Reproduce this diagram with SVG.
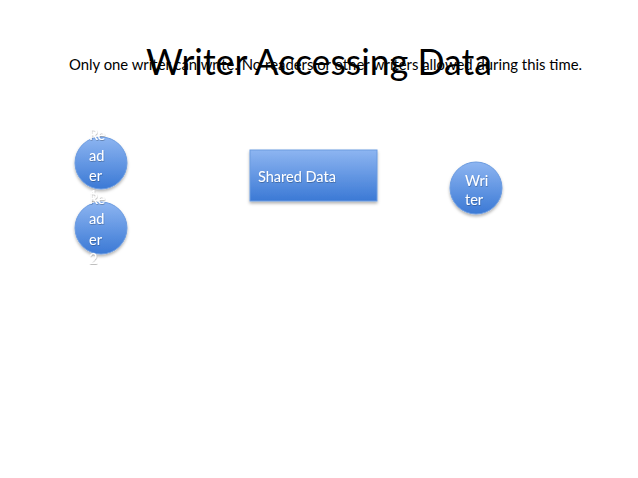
<svg xmlns="http://www.w3.org/2000/svg" width="638" height="478" viewBox="0 0 638 478">
<defs>
<linearGradient id="g" x1="0" y1="0" x2="0" y2="1">
<stop offset="0" stop-color="#8db5f1"/>
<stop offset="1" stop-color="#3b79d5"/>
</linearGradient>
<filter id="sh" x="-20%" y="-20%" width="140%" height="150%">
<feDropShadow dx="0" dy="2" stdDeviation="1.5" flood-color="#000" flood-opacity="0.3"/>
</filter>
<filter id="ts" x="-20%" y="-20%" width="140%" height="150%">
<feDropShadow dx="0.5" dy="1" stdDeviation="0.6" flood-color="#000" flood-opacity="0.25"/>
</filter>
</defs>
<style>
.shape{fill:url(#g);stroke:#6b9be0;stroke-width:1;filter:url(#sh)}
.lbl{font-family:Lato,"Liberation Sans",sans-serif;font-size:14.5px;fill:#ffffff;filter:url(#ts)}
.title{font-family:Lato,"Liberation Sans",sans-serif;font-size:37px;fill:#000}
.sub{font-family:Lato,"Liberation Sans",sans-serif;font-size:15px;fill:#000}
</style>
<rect width="638" height="478" fill="#ffffff"/>
<text class="sub" x="69" y="70" textLength="513" lengthAdjust="spacingAndGlyphs">Only one writer can write. No readers or other writers allowed during this time.</text>
<text class="title" x="319" y="75" text-anchor="middle" textLength="346" lengthAdjust="spacingAndGlyphs">Writer Accessing Data</text>
<g id="connectors"></g>
<g id="reader1">
<circle class="shape" cx="101" cy="163" r="26"/>
<text class="lbl" x="89" y="140">Re</text>
<text class="lbl" x="89" y="161">ad</text>
<text class="lbl" x="89" y="181">er</text>
<text class="lbl" x="89" y="201">1</text>
</g>
<g id="reader2">
<circle class="shape" cx="101" cy="228" r="26"/>
<text class="lbl" x="89" y="204">Re</text>
<text class="lbl" x="89" y="224">ad</text>
<text class="lbl" x="89" y="245">er</text>
<text class="lbl" x="89" y="264">2</text>
</g>
<g id="shared">
<rect class="shape" x="250" y="150" width="127" height="51"/>
<text class="lbl" x="258" y="182">Shared Data</text>
</g>
<g id="writer">
<circle class="shape" cx="476" cy="188" r="26"/>
<text class="lbl" x="465" y="186">Wri</text>
<text class="lbl" x="465" y="205">ter</text>
</g>
</svg>
